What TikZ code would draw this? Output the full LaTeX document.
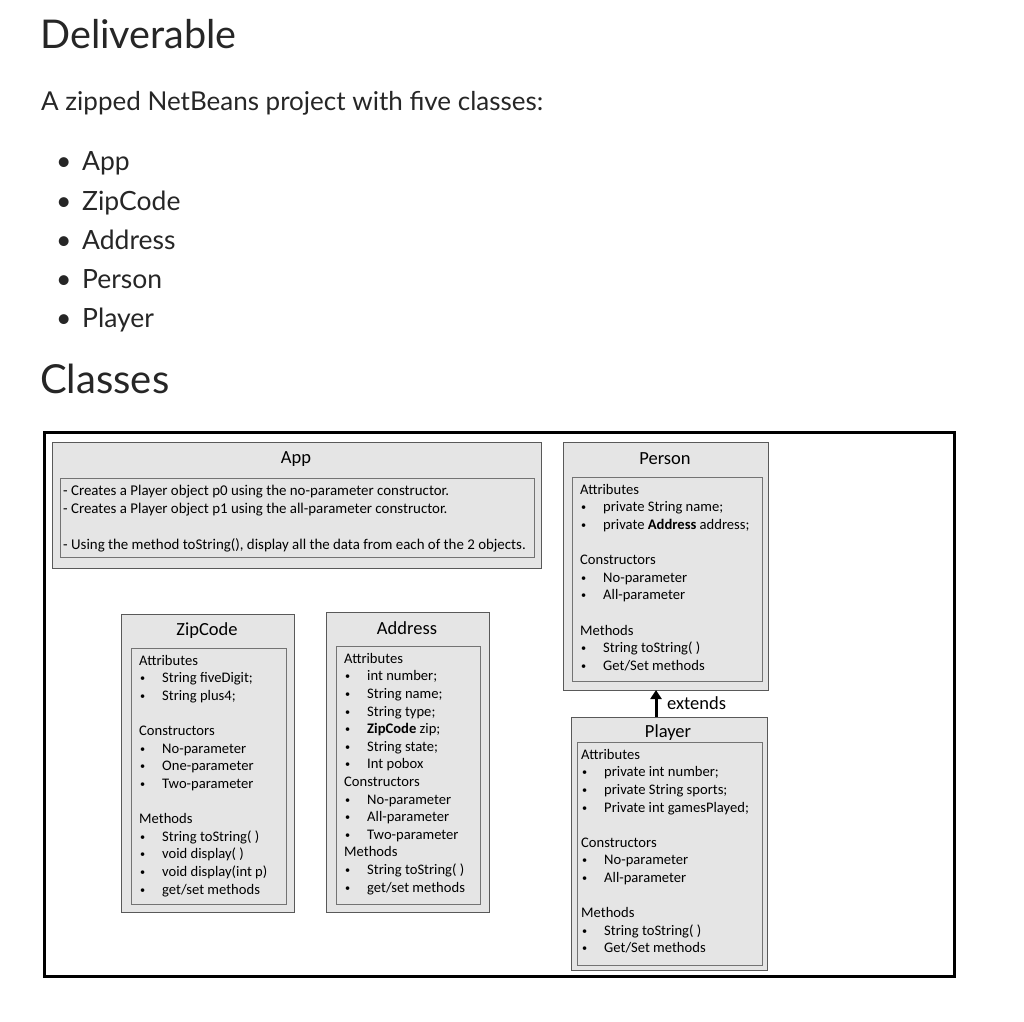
\documentclass[tikz,border=0pt]{standalone}
\usepackage{fontspec}
\usetikzlibrary{arrows.meta}
\setmainfont{Lato}
\newfontfamily\carl{Carlito}
\begin{document}
\begin{tikzpicture}[x=1pt,y=-1pt,
  box/.style={draw=black!65,fill=black!10,line width=0.9pt},
  inbox/.style={draw=black!55,line width=0.8pt},
  ttl/.style={font=\carl\fontsize{18.5}{20}\selectfont},
  txt/.style={anchor=north west,inner sep=0pt,align=left,font=\carl\fontsize{14.6}{17.6}\selectfont},
  lab/.style={anchor=base west,inner sep=0pt,text=black!85}]
\newcommand\bi{\makebox[23pt][l]{\hspace{1pt}\raisebox{0.15ex}{\scalebox{0.7}{\textbullet}}}}
\useasboundingbox (0,0) rectangle (1024,1021);
% headings
\node[lab,font=\fontsize{39.6}{42}\selectfont] (h1) at (40,48) {Deliverable};
\node[lab,font=\fontsize{26}{28}\selectfont] (p1) at (41,110) {A zipped NetBeans project with five classes:};
\foreach \t/\y [count=\i] in {App/170,ZipCode/210,Address/249,Person/288,Player/327}{
  \node[lab,font=\fontsize{26.5}{28}\selectfont] (b\i) at (56,\y) {\textbullet};
  \node[lab,font=\fontsize{26.5}{28}\selectfont] (l\i) at (82,\y) {\t};
}
\node[lab,font=\fontsize{40}{42}\selectfont] (h2) at (40,393) {Classes};
% frame
\draw[line width=3pt] (44,432) rectangle (954,976);
% App
\draw[box] (52,442) rectangle (541,568);
\draw[inbox] (60,478) rectangle (534,557);
\node[ttl] (appt) at (296,459) {App};
\node[txt,font=\carl\fontsize{14.9}{17.6}\selectfont] (appx) at (63,485) {- Creates a Player object p0 using the no-parameter constructor.\\- Creates a Player object p1 using the all-parameter constructor.\\[1.5pt]\\- Using the method toString(), display all the data from each of the 2 objects.};
% Person
\draw[box] (563,442) rectangle (768,690);
\draw[inbox] (572,477) rectangle (762,681);
\node[ttl] (pert) at (665,459) {Person};
\node[txt] (perx) at (580,484) {Attributes\\\bi private String name;\\\bi private \textbf{Address} address;\\\\Constructors\\\bi No-parameter\\\bi All-parameter\\\\Methods\\\bi String toString( )\\\bi Get/Set methods};
% ZipCode
\draw[box] (121,614) rectangle (294,912);
\draw[inbox] (131,648) rectangle (286,904);
\node[ttl] (zipt) at (207,631) {ZipCode};
\node[txt] (zipx) at (139,655) {Attributes\\\bi String fiveDigit;\\\bi String plus4;\\\\Constructors\\\bi No-parameter\\\bi One-parameter\\\bi Two-parameter\\\\Methods\\\bi String toString( )\\\bi void display( )\\\bi void display(int p)\\\bi get/set methods};
% Address
\draw[box] (326,612) rectangle (489,912);
\draw[inbox] (336,646) rectangle (480,904);
\node[ttl] (adrt) at (407,628) {Address};
\node[txt] (adrx) at (344,653) {Attributes\\\bi int number;\\\bi String name;\\\bi String type;\\\bi \textbf{ZipCode} zip;\\\bi String state;\\\bi Int pobox\\Constructors\\\bi No-parameter\\\bi All-parameter\\\bi Two-parameter\\Methods\\\bi String toString( )\\\bi get/set methods};
% Player
\draw[box] (571,717) rectangle (767,970);
\draw[inbox] (577,742) rectangle (762,965);
\node[ttl] (plyt) at (668,733) {Player};
\node[txt] (plyx) at (581,749) {Attributes\\\bi private int number;\\\bi private String sports;\\\bi Private int gamesPlayed;\\\\Constructors\\\bi No-parameter\\\bi All-parameter\\\\Methods\\\bi String toString( )\\\bi Get/Set methods};
% extends
\coordinate (ps) at (656,717);
\coordinate (pe) at (656,690);
\draw[line width=3pt,-{Triangle[length=9pt,width=11pt]}] (ps) -- (pe);
\node[anchor=west,inner sep=0pt,font=\carl\fontsize{18.5}{20}\selectfont] (ext) at (667,703) {extends};
\end{tikzpicture}
\end{document}
